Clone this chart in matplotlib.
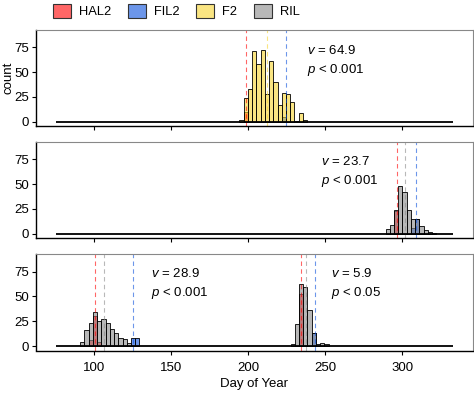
import numpy as np
import matplotlib.pyplot as plt
from matplotlib.patches import Patch
from matplotlib.colors import to_rgba

plt.rcParams['font.family'] = ['Liberation Sans', 'DejaVu Sans']
plt.rcParams['mathtext.fontset'] = 'custom'
plt.rcParams['mathtext.it'] = 'Liberation Sans:italic'
plt.rcParams['mathtext.rm'] = 'Liberation Sans'

groups = ['HAL2', 'FIL2', 'F2', 'RIL']
colors = {'HAL2': '#FF0000', 'FIL2': '#0A50DC', 'F2': '#F7D52F', 'RIL': '#8A8A8A'}
alpha = 0.6

bin_w = 2.75
day_min, day_max = 75, 333
x_ticks = [100, 150, 200, 250, 300]
y_ticks = [0, 25, 50, 75]

# panel 1 (F2 cross)
p1_f2_start = 194.2
p1_f2 = [2, 24, 33, 71, 58, 72, 28, 61, 40, 17, 29, 28, 20, 1, 9, 2]
p1_hal2_start = 196.95
p1_hal2 = [10]
p1_fil2_start = 221.7
p1_fil2 = [5]
p1_means = {'HAL2': 198.8, 'F2': 212.1, 'FIL2': 224.2}
p1_stats = ('64.9', '0.001')

# panel 2 (RIL)
p2_ril_start = 289.1
p2_ril = [5, 9, 24, 48, 42, 24, 15, 15, 8, 4, 2, 1]
p2_hal2_start = 294.6
p2_hal2 = [23]
p2_fil2_start = 305.6
p2_fil2 = [6, 15]
p2_means = {'HAL2': 296.7, 'RIL': 301.8, 'FIL2': 309.2}
p2_stats = ('23.7', '0.001')

# panel 3, early trait
p3a_ril_start = 90.8
p3a_ril = [4, 16, 23, 34, 25, 27, 23, 17, 13, 8, 7, 3]
p3a_hal2_start = 96.3
p3a_hal2 = [6, 30, 4]
p3a_fil2_start = 123.8
p3a_fil2 = [8, 8]
p3a_means = {'HAL2': 100.4, 'RIL': 106.1, 'FIL2': 125.1}
p3a_stats = ('28.9', '0.001')

# panel 3, late trait
p3b_ril_start = 227.4
p3b_ril = [2, 22, 63, 59, 36, 13, 2, 3, 2]
p3b_hal2_start = 232.9
p3b_hal2 = [52]
p3b_fil2_start = 241.15
p3b_fil2 = [13]
p3b_means = {'HAL2': 234.4, 'RIL': 237.7, 'FIL2': 243.2}
p3b_stats = ('5.9', '0.05')


def draw_hist(ax, start, counts, group):
    lefts = start + bin_w * np.arange(len(counts))
    ax.bar(lefts, counts, width=bin_w, align='edge',
           facecolor=to_rgba(colors[group], alpha), edgecolor='black', linewidth=0.6)


def draw_means(ax, means):
    for g, m in means.items():
        ax.axvline(m, color=colors[g], ls=(0, (4, 3)), lw=0.8, alpha=0.6)


def draw_stats(ax, x, y, stats):
    v, p = stats
    ax.text(x, y, r'$v$ = ' + v, fontsize=9.5, va='center')
    ax.text(x, y - 20, r'$p$ < ' + p, fontsize=9.5, va='center')


fig = plt.figure(figsize=(4.74, 3.93), dpi=100)
H = 393.0
left, right = 36 / 474, 473 / 474
boxes = [(30, 126), (142, 238), (254, 350.5)]
axes = []
for top, bot in boxes:
    ax = fig.add_axes([left, 1 - bot / H, right - left, (bot - top) / H])
    axes.append(ax)

ax1, ax2, ax3 = axes

for g, s, c in [('HAL2', p1_hal2_start, p1_hal2), ('FIL2', p1_fil2_start, p1_fil2),
                ('F2', p1_f2_start, p1_f2)]:
    draw_hist(ax1, s, c, g)
draw_means(ax1, p1_means)
draw_stats(ax1, 238, 72, p1_stats)

for g, s, c in [('HAL2', p2_hal2_start, p2_hal2), ('FIL2', p2_fil2_start, p2_fil2),
                ('RIL', p2_ril_start, p2_ril)]:
    draw_hist(ax2, s, c, g)
draw_means(ax2, p2_means)
draw_stats(ax2, 247, 73, p2_stats)

for g, s, c in [('HAL2', p3a_hal2_start, p3a_hal2), ('FIL2', p3a_fil2_start, p3a_fil2),
                ('RIL', p3a_ril_start, p3a_ril),
                ('HAL2', p3b_hal2_start, p3b_hal2), ('FIL2', p3b_fil2_start, p3b_fil2),
                ('RIL', p3b_ril_start, p3b_ril)]:
    draw_hist(ax3, s, c, g)
draw_means(ax3, p3a_means)
draw_means(ax3, p3b_means)
draw_stats(ax3, 137, 73, p3a_stats)
draw_stats(ax3, 254, 73, p3b_stats)

for i, ax in enumerate(axes):
    ax.hlines(0, day_min, day_max, color='black', lw=1.3, zorder=3)
    ax.set_xlim(62.1, 345.9)
    ax.set_ylim(-4.4, 92.7)
    ax.set_xticks(x_ticks)
    ax.set_yticks(y_ticks)
    ax.tick_params(direction='out', length=3, width=0.8, labelsize=9.5, colors='black', pad=2)
    ax.tick_params(axis='x', pad=5)
    if i < 2:
        ax.set_xticklabels([])
    for side in ['left', 'bottom']:
        ax.spines[side].set_color('black')
        ax.spines[side].set_linewidth(1.0)
    for side in ['top', 'right']:
        ax.spines[side].set_color('#888888')
        ax.spines[side].set_linewidth(0.8)

ax1.set_ylabel('count', fontsize=9.5)
ax1.yaxis.set_label_coords(-0.05, 0.5)
ax3.set_xlabel('Day of Year', fontsize=9.5, labelpad=3)

handles = [Patch(facecolor=to_rgba(colors[g], alpha), edgecolor='#333333', linewidth=0.8) for g in groups]
fig.legend(handles, groups, ncol=4, loc='center', bbox_to_anchor=(176.5 / 474, 1 - 11 / H),
           frameon=False, fontsize=9.3, handlelength=1.4, handleheight=1.35,
           handletextpad=0.6, columnspacing=1.3, borderpad=0)

fig.savefig('out.png', dpi=100)
